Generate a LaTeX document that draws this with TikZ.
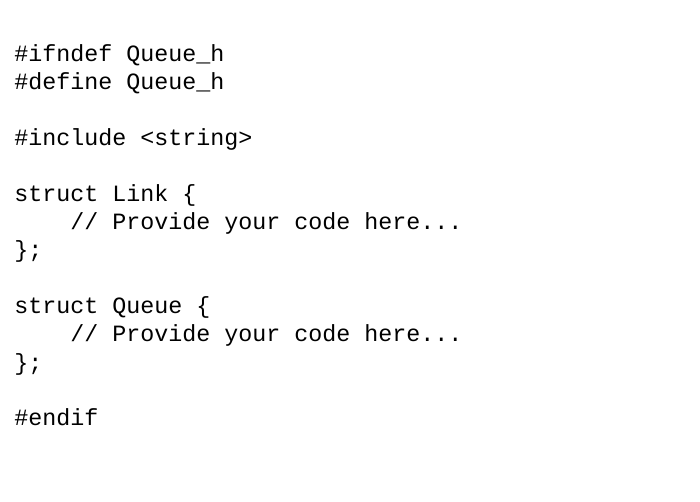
\documentclass[tikz,border=0pt]{standalone}
\usepackage{fontspec}
\setmonofont{Liberation Mono}
\begin{document}
\begin{tikzpicture}[x=0.75pt,y=-0.75pt,
  code/.style={anchor=base west,inner sep=0pt,font=\ttfamily\fontsize{17.5pt}{21pt}\selectfont}]
\useasboundingbox[fill=white] (0,0) rectangle (700,502);
\node[code] (l1) at (14,62) {\#ifndef Queue\_h};
\node[code] (l2) at (14,90) {\#define Queue\_h};
\node[code] (l3) at (14,146) {\#include <string>};
\node[code] (l4) at (14,202) {struct Link \{};
\node[code] (l5) at (14,230) {\ \ \ \ // Provide your code here...};
\node[code] (l6) at (14,258) {\};};
\node[code] (l7) at (14,314) {struct Queue \{};
\node[code] (l8) at (14,342) {\ \ \ \ // Provide your code here...};
\node[code] (l9) at (14,370) {\};};
\node[code] (l10) at (14,426) {\#endif};
\end{tikzpicture}
\end{document}
